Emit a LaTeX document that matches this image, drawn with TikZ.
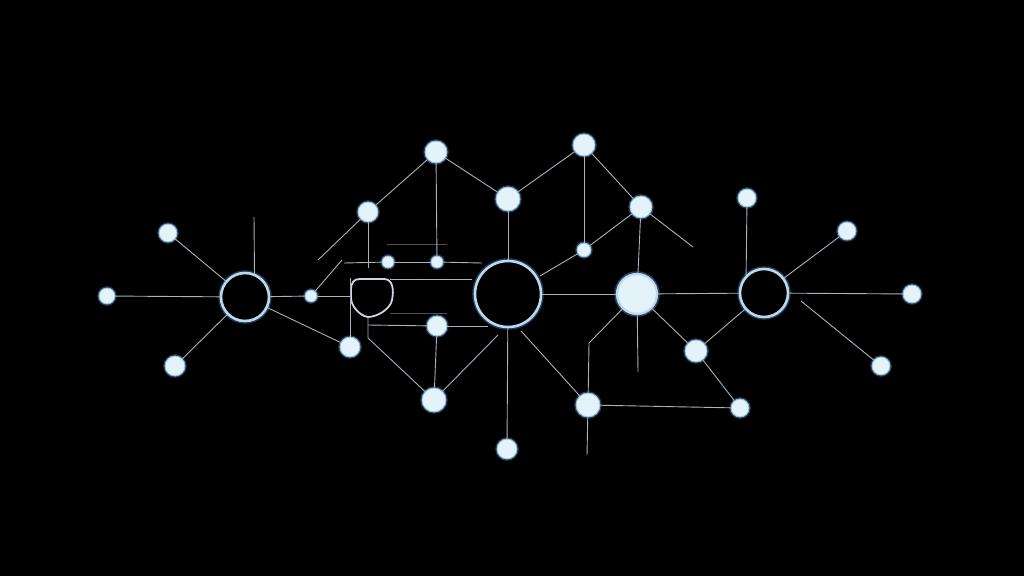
\documentclass[tikz,border=0pt]{standalone}
\usepackage{tikz}
\definecolor{bg}{RGB}{0,0,0}
\definecolor{linec}{RGB}{168,178,188}
\definecolor{dotfill}{RGB}{228,242,250}
\definecolor{dotedge}{RGB}{150,192,218}
\definecolor{ringc}{RGB}{185,218,238}
\definecolor{glowc}{RGB}{90,150,215}
\definecolor{shapec}{RGB}{205,214,222}
\tikzset{
  edge/.style={draw=linec, line width=0.9pt},
  faint/.style={draw=linec, line width=0.8pt, draw opacity=0.45},
  dot/.style={circle, inner sep=0pt, fill=dotfill, draw=dotedge, line width=0.9pt,
     preaction={draw=glowc, line width=3.5pt, draw opacity=0.4}},
  hub/.style={circle, inner sep=0pt, fill=black, draw=ringc, line width=2.6pt,
     preaction={draw=glowc, line width=5.5pt, draw opacity=0.4}},
  bighub/.style={circle, inner sep=0pt, fill=dotfill, draw=ringc, line width=2.2pt,
     preaction={draw=glowc, line width=5.5pt, draw opacity=0.45}},
}
\begin{document}
\begin{tikzpicture}[x=1pt,y=-1pt]
\fill[bg] (0,0) rectangle (1024,576);
\useasboundingbox (0,0) rectangle (1024,576);

% hubs
\node[hub, minimum size=48pt] (H1) at (245,297) {};
\node[hub, minimum size=66pt] (H2) at (508,294) {};
\node[hub, minimum size=48pt] (H3) at (764,293) {};
\node[bighub, minimum size=40pt] (Ni) at (637,294) {};

% dots
\node[dot, minimum size=16pt] (L1) at (107,296) {};
\node[dot, minimum size=18pt] (L2) at (168,233) {};
\node[dot, minimum size=20pt] (L3) at (175,366) {};
\node[dot, minimum size=12pt] (D1) at (311,296) {};
\node[dot, minimum size=20pt] (Na) at (368,212) {};
\node[dot, minimum size=22pt] (Nb) at (436,152) {};
\node[dot, minimum size=24pt] (Nd) at (508,199) {};
\node[dot, minimum size=12pt] (D2) at (388,262) {};
\node[dot, minimum size=12pt] (D3) at (437,262) {};
\node[dot, minimum size=20pt] (Nc) at (350,347) {};
\node[dot, minimum size=20pt] (Ne) at (437,326) {};
\node[dot, minimum size=24pt] (Nf) at (434,400) {};
\node[dot, minimum size=20pt] (Ng) at (507,449) {};
\node[dot, minimum size=24pt] (Nh) at (588,405) {};
\node[dot, minimum size=22pt] (Nk) at (584,145) {};
\node[dot, minimum size=14pt] (Nj) at (584,250) {};
\node[dot, minimum size=22pt] (Nl) at (641,207) {};
\node[dot, minimum size=18pt] (No) at (747,198) {};
\node[dot, minimum size=18pt] (Np) at (847,231) {};
\node[dot, minimum size=18pt] (Nq) at (912,294) {};
\node[dot, minimum size=18pt] (Nr) at (881,366) {};
\node[dot, minimum size=22pt] (Nn) at (696,351) {};
\node[dot, minimum size=18pt] (Nm) at (740,408) {};

% free ends and junctions
\coordinate (t1) at (254,217);
\coordinate (v1) at (350,278);
\coordinate (e1) at (342,260);
\coordinate (e2) at (318,260);
\coordinate (e3) at (368,268);
\coordinate (h1) at (344,263);
\coordinate (h2) at (482,263);
\coordinate (f1) at (387,244);
\coordinate (f2) at (447,244);
\coordinate (s1) at (390,279);
\coordinate (h3) at (472,279);
\coordinate (s2) at (390,313);
\coordinate (h4) at (447,313);
\coordinate (v2) at (368,317);
\coordinate (v3) at (368,338);
\coordinate (v4) at (368,325);
\coordinate (h5) at (488,326);
\coordinate (e4) at (498,335);
\coordinate (e5) at (521,331);
\coordinate (e6) at (540,276);
\coordinate (e7) at (693,247);
\coordinate (e8) at (638,372);
\coordinate (k1) at (589,343);
\coordinate (e9) at (587,455);
\coordinate (e10) at (801,301);

% shape
\draw[draw=shapec, line width=1.8pt] (351,290)
  .. controls (351,282) and (354,279) .. (360,279) -- (384,279)
  .. controls (393,279) and (394,290) .. (392,300)
  .. controls (390,310) and (376,317) .. (368,317)
  .. controls (360,316) and (351,306) .. (351,298) -- cycle;

% left cluster
\draw[edge] (H1) -- (L1);
\draw[edge] (H1) -- (L2);
\draw[edge] (H1) -- (L3);
\draw[edge] (H1) -- (D1);
\draw[edge] (t1) -- (H1.68);
\draw[edge] (H1) -- (Nc);
\draw[edge] (D1) -- (D1 -| v1);
\draw[edge] (v1) -- (Nc);
\draw[edge] (D1) -- (e1);
\draw[edge] (e2) -- (Na);
\draw[edge] (Na) -- (Nb);
\draw[edge] (Na) -- (e3);
\draw[edge] (h1) -- (D2);
\draw[edge] (D2) -- (D3);
\draw[edge] (D3) -- (h2);
\draw[edge] (Nb) -- (D3);
\draw[edge] (Nb) -- (Nd);
\draw[edge] (Nd) -- (H2);
\draw[faint] (f1) -- (f2);
\draw[edge] (s1) -- (h3);
\draw[faint] (s2) -- (h4);
\draw[edge] (v2) -- (v3) -- (Nf);
\draw[edge] (v4) -- (Ne);
\draw[edge] (Ne) -- (h5);
\draw[edge] (Ne) -- (Nf);
\draw[edge] (Nf) -- (e4);
\draw[edge] (H2) -- (Ng);
\draw[edge] (e5) -- (Nh);

% right cluster
\draw[edge] (H2) -- (Ni);
\draw[edge] (Nd) -- (Nk);
\draw[edge] (Nk) -- (Nj);
\draw[edge] (Nk) -- (Nl);
\draw[edge] (Nl) -- (Nj);
\draw[edge] (Nj) -- (e6);
\draw[edge] (Nl) -- (e7);
\draw[edge] (Nl) -- (Ni);
\draw[edge] (Ni) -- (H3);
\draw[edge] (Ni) -- (e8);
\draw[edge] (Ni) -- (k1) -- (Nh);
\draw[edge] (Nh) -- (e9);
\draw[edge] (Nh) -- (Nm);
\draw[edge] (Ni) -- (Nn);
\draw[edge] (Nn) -- (Nm);
\draw[edge] (Nn) -- (H3);
\draw[edge] (No) -- (H3.135);
\draw[edge] (H3) -- (Np);
\draw[edge] (H3) -- (Nq);
\draw[edge] (e10) -- (Nr);
\end{tikzpicture}
\end{document}
